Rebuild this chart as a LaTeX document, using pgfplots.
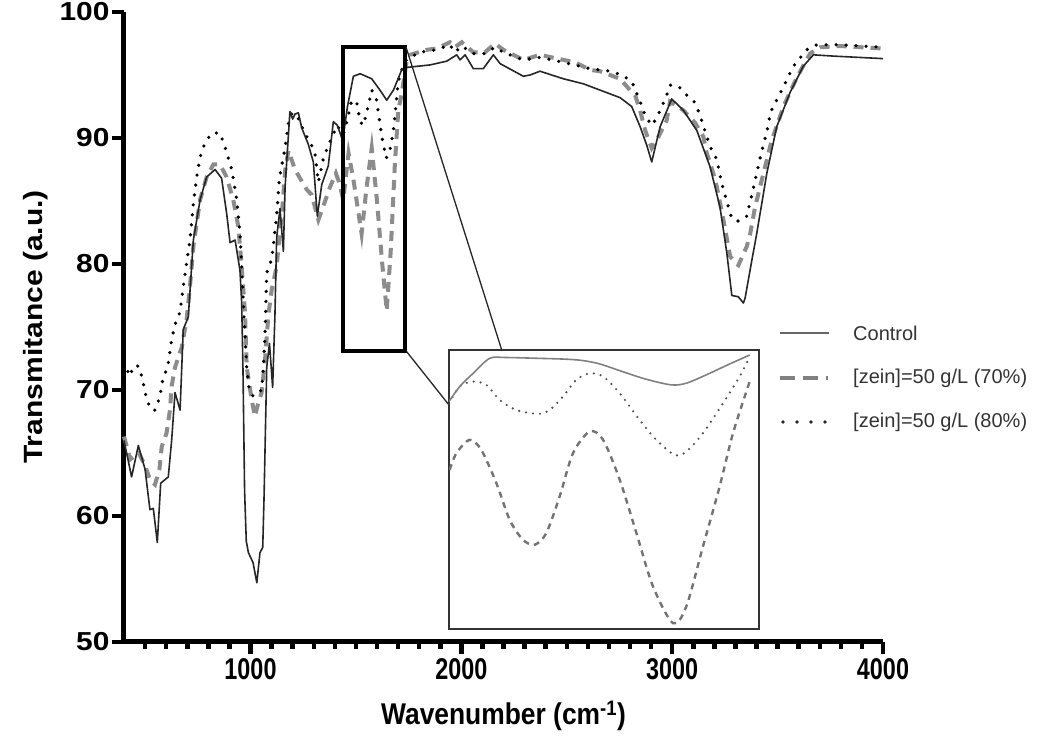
\documentclass[border=0pt]{standalone}
\usepackage{fontspec}
\setmainfont{Liberation Sans}
\usepackage{pgfplots}
\pgfplotsset{compat=1.18}

\pgfplotstableread{
x y
400 66.0
436 63.1
468 65.6
500 63.7
523 60.5
539 60.6
558 57.9
574 62.6
610 63.1
626 66.0
642 69.8
666 68.4
681 74.8
705 75.8
729 81.9
761 85.1
792 86.9
832 87.5
863 86.8
887 84.0
903 81.7
927 81.9
950 79.5
958 77.0
964 72.0
972 62.0
980 58.0
990 57.1
1012 56.3
1030 54.7
1045 57.1
1058 57.5
1064 61.3
1077 71.8
1090 73.7
1105 70.2
1116 76.0
1124 82.1
1140 84.4
1156 81.0
1164 86.1
1187 92.1
1200 91.5
1211 91.9
1227 92.0
1243 90.8
1274 89.5
1298 88.1
1317 83.8
1338 86.3
1369 87.8
1393 91.3
1412 91.0
1437 89.8
1460 92.5
1488 94.9
1520 95.1
1575 94.7
1614 93.8
1646 93.0
1678 93.8
1717 95.4
1741 95.6
1852 95.8
1931 96.1
1978 96.6
1994 96.2
2018 96.6
2057 95.5
2104 95.5
2152 96.6
2184 95.9
2239 95.4
2294 94.9
2326 95.0
2373 95.3
2484 94.7
2579 94.3
2674 93.7
2753 93.2
2808 92.5
2848 90.9
2880 89.4
2903 88.1
2943 90.9
2998 93.1
3053 92.2
3117 90.6
3180 87.7
3227 84.5
3259 80.9
3283 77.5
3314 77.4
3338 76.9
3346 77.3
3378 80.3
3401 82.4
3425 84.8
3449 87.2
3496 90.9
3559 93.6
3622 95.7
3670 96.6
3765 96.5
4000 96.3
}\control

\pgfplotstableread{
x y
400 66.3
430 64.5
470 65.0
500 64.0
523 62.9
547 62.5
568 63.7
579 65.5
602 66.6
618 68.4
626 70.3
642 71.8
674 73.4
697 75.6
713 78.2
729 81.4
761 85.1
792 86.9
824 87.9
855 87.9
887 86.9
918 85.1
942 83.0
958 79.8
974 76.1
982 71.8
1006 69.2
1021 67.9
1037 69.0
1053 69.8
1069 72.4
1085 76.0
1101 78.0
1124 79.8
1140 82.7
1148 83.8
1165 87.5
1180 89.0
1211 87.5
1235 86.8
1267 85.9
1290 85.5
1322 83.5
1354 85.0
1377 86.1
1405 87.2
1420 86.5
1440 85.1
1465 88.8
1490 86.5
1527 82.4
1550 86.0
1575 89.2
1600 85.0
1625 80.0
1646 76.3
1665 81.0
1685 88.0
1701 92.2
1717 93.5
1740 96.0
1757 96.6
1836 97.0
1883 97.1
1946 97.6
1970 97.2
2002 97.6
2057 96.8
2112 96.8
2160 97.5
2199 97.0
2294 96.2
2373 96.6
2484 96.2
2540 96.0
2611 95.4
2658 95.3
2721 94.9
2753 94.7
2800 93.8
2824 93.4
2848 92.2
2872 90.6
2903 89.2
2935 90.1
2974 91.4
2990 92.9
3053 92.2
3109 91.2
3148 90.1
3164 88.8
3195 87.2
3212 86.1
3243 83.5
3275 80.6
3306 80.0
3314 79.9
3354 81.4
3370 82.4
3393 84.5
3433 87.2
3472 89.8
3528 92.5
3591 94.8
3654 96.7
3702 97.2
3797 97.3
4000 97.1
}\dashed

\pgfplotstableread{
x y
400 72.2
428 71.1
445 71.9
468 71.9
484 71.1
508 69.2
531 68.4
547 68.4
571 69.5
579 70.5
610 72.1
626 74.0
642 75.2
666 76.2
681 78.2
697 80.1
713 81.9
729 84.8
745 86.9
761 88.5
784 89.6
816 90.4
855 90.4
879 89.3
911 87.5
935 85.1
950 82.5
958 79.8
966 76.9
982 71.8
994 70.0
1013 69.5
1037 69.8
1053 70.0
1061 71.8
1069 74.5
1077 79.3
1101 80.4
1124 83.8
1137 86.8
1164 89.2
1180 91.2
1195 91.9
1219 91.9
1240 91.0
1267 90.1
1290 89.4
1306 88.7
1322 86.5
1346 88.4
1369 89.4
1393 90.3
1410 91.0
1440 90.3
1456 91.2
1480 93.0
1504 92.8
1520 91.3
1535 91.0
1551 92.0
1575 93.8
1598 93.0
1622 90.2
1643 88.4
1659 88.8
1678 90.6
1701 94.5
1717 95.4
1740 96.2
1800 96.8
1883 97.0
1946 97.4
1970 96.8
2002 97.3
2057 96.7
2112 96.7
2160 97.2
2199 96.8
2294 96.2
2373 96.4
2484 96.0
2611 95.5
2705 95.3
2761 95.0
2808 94.5
2848 92.9
2872 91.8
2903 91.0
2927 91.6
2951 92.5
2974 93.4
2990 94.2
3030 94.1
3069 93.4
3109 92.8
3132 91.8
3180 89.3
3212 88.3
3235 86.4
3267 84.5
3283 83.6
3314 83.4
3354 83.8
3378 85.5
3417 88.4
3456 91.0
3465 92.0
3520 93.8
3575 95.7
3638 97.0
3686 97.4
3797 97.4
4000 97.2
}\dotted

% inset (zoomed, rescaled 1440-1730 region)
\pgfplotstableread{
x y
1440 81.5
1450 86.9
1462.5 91.6
1478 97.0
1493.6 97.3
1524.8 97.0
1549.8 96.7
1565.4 96.2
1581 95.0
1602.8 92.2
1624.6 89.5
1648 87.5
1662 88.1
1680.7 91.1
1702.6 95.0
1721.3 98.2
}\icontrol

\pgfplotstableread{
x y
1440 80.9
1450 86.9
1462.5 88.7
1474.9 87.5
1487.4 82.1
1503 78.5
1523.3 77.1
1534.2 78.5
1546.6 83.3
1559.1 89.3
1571.6 91.6
1584.1 90.5
1599.7 84.5
1618.4 74.9
1633.9 67.8
1651.1 62.4
1662 63.6
1677.6 70.2
1696.3 80.9
1711.9 90.5
1721.3 97.6
}\idotted

\pgfplotstableread{
x y
1440.6 57.0
1446.9 63.0
1459.3 67.8
1470.2 64.2
1484.3 52.3
1496.8 39.1
1509.2 32.0
1520.1 30.2
1531 34.4
1543.5 47.5
1556 63.0
1571.6 70.8
1584.1 67.8
1599.7 53.5
1615.3 34.4
1630.8 15.3
1649.5 2.1
1662 8.1
1677.6 29.6
1693.2 51.1
1705.7 70.2
1721.3 88.7
}\idashed

\tikzset{
  ctrl/.style={black!85, line width=1.6pt, line join=round},
  dsh/.style={black!45, line width=4pt, dash pattern=on 10pt off 7pt},
  dts/.style={black, line width=3.6pt, line cap=round, dash pattern=on 0pt off 10pt},
}

\begin{document}
\begin{tikzpicture}
\path[use as bounding box] (0pt,0pt) rectangle (1037pt,737pt);
\begin{axis}[
  at={(124pt,95pt)}, anchor=south west,
  width=759pt, height=630pt, scale only axis,
  xmin=400, xmax=4000, ymin=50, ymax=100,
  axis x line*=bottom, axis y line*=left,
  axis line style={line width=5pt, black},
  xtick={1000,2000,3000,4000},
  minor xtick={500,600,700,800,900,1100,1200,1300,1400,1500,1600,1700,1800,1900,2100,2200,2300,2400,2500,2600,2700,2800,2900,3100,3200,3300,3400,3500,3600,3700,3800,3900},
  ytick={50,60,70,80,90,100},
  tick align=outside,
  major tick length=12pt, minor tick length=7pt,
  every tick/.style={black, line width=4.5pt},
  /pgf/number format/assume math mode=true,
  /pgf/number format/1000 sep={},
  yticklabel style={font=\bfseries\fontsize{26}{26}\selectfont, xscale=1.15, inner sep=2pt},
  xticklabel style={font=\bfseries\fontsize{30}{30}\selectfont, xscale=0.78, yshift=-1pt},
  every axis y label/.style={at={(axis description cs:-0.117,0.5)}, rotate=90, anchor=center},
  every axis x label/.style={at={(axis description cs:0.5,-0.118)}, anchor=center},
  label style={font=\bfseries\fontsize{30}{30}\selectfont},
  xlabel style={xscale=0.88},
  ylabel style={yscale=0.88},
  xlabel={Wavenumber (cm\textsuperscript{-1})},
  ylabel={Transmitance (a.u.)},
  clip=false,
]
\addplot[dsh] table {\dashed};
\addplot[dts] table {\dotted};
\addplot[ctrl] table {\control};
\draw[line width=4pt, black] (axis cs:1440,73.1) rectangle (axis cs:1735,97.2);
\draw[line width=1.3pt, black!85] (axis cs:1738,97.2) -- (axis cs:2193,73.1);
\draw[line width=1.3pt, black!85] (axis cs:1738,73.1) -- (axis cs:1942,68.8);
\end{axis}

\begin{axis}[
  at={(449pt,108pt)}, anchor=south west,
  width=310pt, height=279pt, scale only axis,
  xmin=1440, xmax=1730, ymin=0, ymax=100,
  ticks=none,
  axis line style={line width=1.8pt, black!80},
]
\addplot[black!55, line width=2.4pt, dash pattern=on 6pt off 5pt, smooth] table {\idashed};
\addplot[black!70, line width=2.4pt, line cap=round, dash pattern=on 0pt off 7pt, smooth] table {\idotted};
\addplot[black!50, line width=1.6pt, smooth] table {\icontrol};
\end{axis}

% legend
\begin{scope}[font=\fontsize{20}{20}\selectfont]
\draw[black!60, line width=1.5pt] (780pt,404pt) -- (829pt,404pt);
\node[anchor=west, text=black!80, inner sep=0pt] at (853pt,404pt) {Control};
\draw[black!50, line width=4pt, dash pattern=on 15pt off 8pt] (780pt,359pt) -- (828pt,359pt);
\node[anchor=west, text=black!80, inner sep=0pt] at (853pt,359pt) {[zein]=50 g/L (70\%)};
\draw[black!85, line width=3.6pt, line cap=round, dash pattern=on 0pt off 14pt] (783pt,315pt) -- (826pt,315pt);
\node[anchor=west, text=black!80, inner sep=0pt] at (853pt,315pt) {[zein]=50 g/L (80\%)};
\end{scope}
\end{tikzpicture}
\end{document}
